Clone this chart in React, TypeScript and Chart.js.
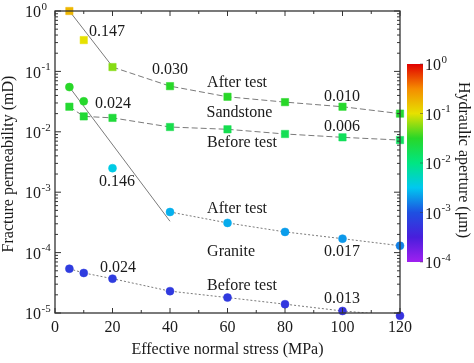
import React, { useEffect, useRef } from 'react';
import { Chart, registerables } from 'chart.js';

Chart.register(...registerables);

// ---------- data ----------
const stress = [5, 10, 20, 40, 60, 80, 100, 120];

const sandstoneAfter = [1.0, 0.33, 0.118, 0.057, 0.038, 0.031, 0.026, 0.02];
const sandstoneBefore = [0.026, 0.018, 0.017, 0.012, 0.011, 0.0092, 0.0081, 0.0073];
const graniteAfter = [0.055, 0.032, 0.0025, 0.00047, 0.00031, 0.00022, 0.00017, 0.00013];
const graniteBefore = [5.4e-5, 4.6e-5, 3.7e-5, 2.3e-5, 1.8e-5, 1.4e-5, 1.08e-5, 0.9e-5];

// log10 of hydraulic aperture (µm) for each point (colour coding)
const sandstoneAfterAperture = [-0.75, -1.0, -1.25, -1.5, -1.5, -1.5, -1.52, -1.55];
const sandstoneBeforeAperture = [-1.55, -1.58, -1.6, -1.7, -1.72, -1.75, -1.78, -1.8];
const graniteAfterAperture = [-1.5, -1.52, -2.45, -2.6, -2.62, -2.68, -2.7, -2.8];
const graniteBeforeAperture = [-3.2, -3.2, -3.2, -3.22, -3.22, -3.25, -3.28, -3.3];

// steep (solid) trend segments
const sandstoneSteepX = [5, 20];
const sandstoneSteepY = [1.0, 0.12];
const graniteSteepX = [5, 40];
const graniteSteepY = [0.055, 0.00033];

// tick labels
const xTickValues = [0, 20, 40, 60, 80, 100, 120];
const yTickExponents = [0, -1, -2, -3, -4, -5];
const colorbarExponents = [0, -1, -2, -3, -4];

const xTitle = 'Effective normal stress (MPa)';
const yTitle = 'Fracture permeability (mD)';
const colorbarTitle = 'Hydraulic aperture (\u03bcm)';

// annotation texts with anchor (x in MPa, y in mD)
const annotationTexts = ['0.147', '0.030', 'After test', 'Sandstone', 'Before test', '0.024', '0.010', '0.006',
  '0.146', 'After test', 'Granite', '0.017', '0.024', 'Before test', '0.013'];
const annotationX = [18.1, 40, 52.9, 52.7, 52.9, 20.2, 99.8, 99.8, 21.6, 52.9, 52.9, 99.8, 21.9, 52.9, 99.8];
const annotationY = [0.449, 0.105, 0.0643, 0.0205, 0.00653, 0.0288, 0.0377, 0.012, 0.00148, 0.000527, 0.000102,
  0.000102, 5.56e-5, 2.8e-5, 1.7e-5];
const annotationAlign = ['center', 'center', 'left', 'left', 'left', 'center', 'center', 'center',
  'center', 'left', 'left', 'center', 'center', 'left', 'center'];

// ---------- colormap ----------
const cmapStops: [number, number[]][] = [
  [-4, [160, 32, 240]],
  [-3.5, [72, 30, 220]],
  [-3, [30, 80, 225]],
  [-2.5, [0, 200, 240]],
  [-2, [0, 230, 130]],
  [-1.5, [40, 215, 40]],
  [-1, [230, 225, 0]],
  [-0.5, [245, 140, 0]],
  [0, [225, 0, 0]],
];

function cmap(v: number): string {
  const t = Math.max(-4, Math.min(0, v));
  for (let i = 0; i < cmapStops.length - 1; i++) {
    const [a, ca] = cmapStops[i];
    const [b, cb] = cmapStops[i + 1];
    if (t >= a && t <= b) {
      const f = (t - a) / (b - a);
      const c = ca.map((x, k) => Math.round(x + (cb[k] - x) * f));
      return `rgb(${c[0]},${c[1]},${c[2]})`;
    }
  }
  return 'rgb(225,0,0)';
}

const SERIF = '"Liberation Serif", "Times New Roman", serif';
const FS = 16;
const TEXT = '#1a1a1a';
const AXIS = '#333333';

function pts(xs: number[], ys: number[]) {
  return xs.map((x, i) => ({ x, y: ys[i] }));
}

function drawPow(ctx: CanvasRenderingContext2D, x: number, y: number, exp: number) {
  ctx.textAlign = 'left';
  ctx.textBaseline = 'middle';
  ctx.font = `${FS}px ${SERIF}`;
  ctx.fillText('10', x, y + 2);
  const w = ctx.measureText('10').width;
  ctx.font = `11px ${SERIF}`;
  ctx.fillText(exp === 0 ? '0' : '-' + Math.abs(exp), x + w + 0.5, y - 4);
}

const decorPlugin = {
  id: 'decor',
  afterDatasetsDraw(chart: any) {
    const ctx: CanvasRenderingContext2D = chart.ctx;
    const xs = chart.scales.x;
    const ys = chart.scales.y;
    const { left, right, top, bottom } = chart.chartArea;
    ctx.save();

    // annotations
    ctx.fillStyle = TEXT;
    ctx.font = `${FS}px ${SERIF}`;
    ctx.textBaseline = 'middle';
    annotationTexts.forEach((t, i) => {
      ctx.textAlign = annotationAlign[i] as CanvasTextAlign;
      ctx.fillText(t, xs.getPixelForValue(annotationX[i]), ys.getPixelForValue(annotationY[i]));
    });

    // frame
    ctx.strokeStyle = AXIS;
    ctx.lineWidth = 1.3;
    ctx.strokeRect(left, top, right - left, bottom - top);

    // x ticks (inward, bottom and top)
    ctx.lineWidth = 1;
    ctx.beginPath();
    for (let v = 0; v <= 120; v += 10) {
      const px = xs.getPixelForValue(v);
      const len = v % 20 === 0 ? 5 : 3;
      ctx.moveTo(px, bottom);
      ctx.lineTo(px, bottom - len);
      ctx.moveTo(px, top);
      ctx.lineTo(px, top + len);
    }
    // y ticks (log, inward, left and right)
    for (let e = -5; e <= 0; e++) {
      for (let m = 1; m <= 9; m++) {
        const v = m * Math.pow(10, e);
        if (v > 1.0001) break;
        const py = ys.getPixelForValue(v);
        const len = m === 1 ? 6 : 3;
        ctx.moveTo(left, py);
        ctx.lineTo(left + len, py);
        ctx.moveTo(right, py);
        ctx.lineTo(right - len, py);
      }
    }
    ctx.stroke();

    // x tick labels
    ctx.fillStyle = TEXT;
    ctx.font = `${FS}px ${SERIF}`;
    ctx.textAlign = 'center';
    ctx.textBaseline = 'middle';
    xTickValues.forEach((v) => ctx.fillText(String(v), xs.getPixelForValue(v), bottom + 15));

    // y tick labels
    yTickExponents.forEach((e) => drawPow(ctx, 25, ys.getPixelForValue(Math.pow(10, e)), e));

    // axis titles
    ctx.font = `${FS}px ${SERIF}`;
    ctx.textAlign = 'center';
    ctx.textBaseline = 'middle';
    ctx.fillText(xTitle, (left + right) / 2, 350);
    ctx.save();
    ctx.translate(9, 164);
    ctx.rotate(-Math.PI / 2);
    ctx.fillText(yTitle, 0, 0);
    ctx.restore();

    // colorbar
    const cbL = 407, cbT = 64, cbW = 16, cbH = 198;
    const grad = ctx.createLinearGradient(0, cbT, 0, cbT + cbH);
    for (let i = 0; i <= 40; i++) {
      const f = i / 40;
      grad.addColorStop(f, cmap(-4 * f));
    }
    ctx.fillStyle = grad;
    ctx.fillRect(cbL, cbT, cbW, cbH);
    ctx.strokeStyle = 'rgba(60,60,60,0.5)';
    ctx.lineWidth = 1;
    ctx.beginPath();
    colorbarExponents.forEach((e) => {
      const py = cbT + (-e / 4) * cbH;
      ctx.moveTo(cbL + cbW, py);
      ctx.lineTo(cbL + cbW - 3, py);
    });
    ctx.stroke();
    ctx.fillStyle = TEXT;
    colorbarExponents.forEach((e) => drawPow(ctx, cbL + cbW + 2, cbT + (-e / 4) * cbH, e));
    ctx.font = `${FS}px ${SERIF}`;
    ctx.textAlign = 'center';
    ctx.textBaseline = 'middle';
    ctx.save();
    ctx.translate(463, 160);
    ctx.rotate(Math.PI / 2);
    ctx.fillText(colorbarTitle, 0, 0);
    ctx.restore();

    ctx.restore();
  },
};

const LINE = '#7a7a7a';

export default function App() {
  const ref = useRef<HTMLCanvasElement>(null);

  useEffect(() => {
    document.body.style.margin = '0';
    if (!ref.current) return;

    const lineDs = (data: any[], dash: number[]) => ({
      type: 'scatter' as const,
      data,
      showLine: true,
      borderColor: LINE,
      borderWidth: 1,
      borderDash: dash,
      pointRadius: 0,
      order: 2,
    });
    const pointDs = (ys: number[], ap: number[], style: string, r: number) => ({
      type: 'scatter' as const,
      data: pts(stress, ys),
      pointStyle: style,
      pointRadius: r,
      pointBackgroundColor: ap.map(cmap),
      pointBorderColor: ap.map(cmap),
      pointBorderWidth: 0.5,
      showLine: false,
      clip: false,
      order: 1,
    });

    const chart = new Chart(ref.current, {
      type: 'scatter',
      data: {
        datasets: [
          lineDs(pts(sandstoneSteepX, sandstoneSteepY), []),
          lineDs(pts(stress.slice(2), sandstoneAfter.slice(2)), [6, 3]),
          lineDs(pts(stress, sandstoneBefore), [6, 3]),
          lineDs(pts(graniteSteepX, graniteSteepY), []),
          lineDs(pts(stress.slice(3), graniteAfter.slice(3)), [2, 2]),
          lineDs(pts(stress, graniteBefore), [2, 2]),
          pointDs(sandstoneAfter, sandstoneAfterAperture, 'rect', 5.2),
          pointDs(sandstoneBefore, sandstoneBeforeAperture, 'rect', 5.2),
          pointDs(graniteAfter, graniteAfterAperture, 'circle', 4),
          pointDs(graniteBefore, graniteBeforeAperture, 'circle', 4),
        ] as any,
      },
      options: {
        animation: false,
        responsive: false,
        layout: { padding: { left: 55, right: 74, top: 11, bottom: 50 } },
        plugins: { legend: { display: false }, tooltip: { enabled: false } },
        scales: {
          x: { type: 'linear', min: 0, max: 120, display: false },
          y: { type: 'logarithmic', min: 1e-5, max: 1, display: false },
        },
      },
      plugins: [decorPlugin],
    });
    return () => chart.destroy();
  }, []);

  return (
    <div style={{ width: 474, height: 363, background: '#fff' }}>
      <canvas ref={ref} width={474} height={363} />
    </div>
  );
}
